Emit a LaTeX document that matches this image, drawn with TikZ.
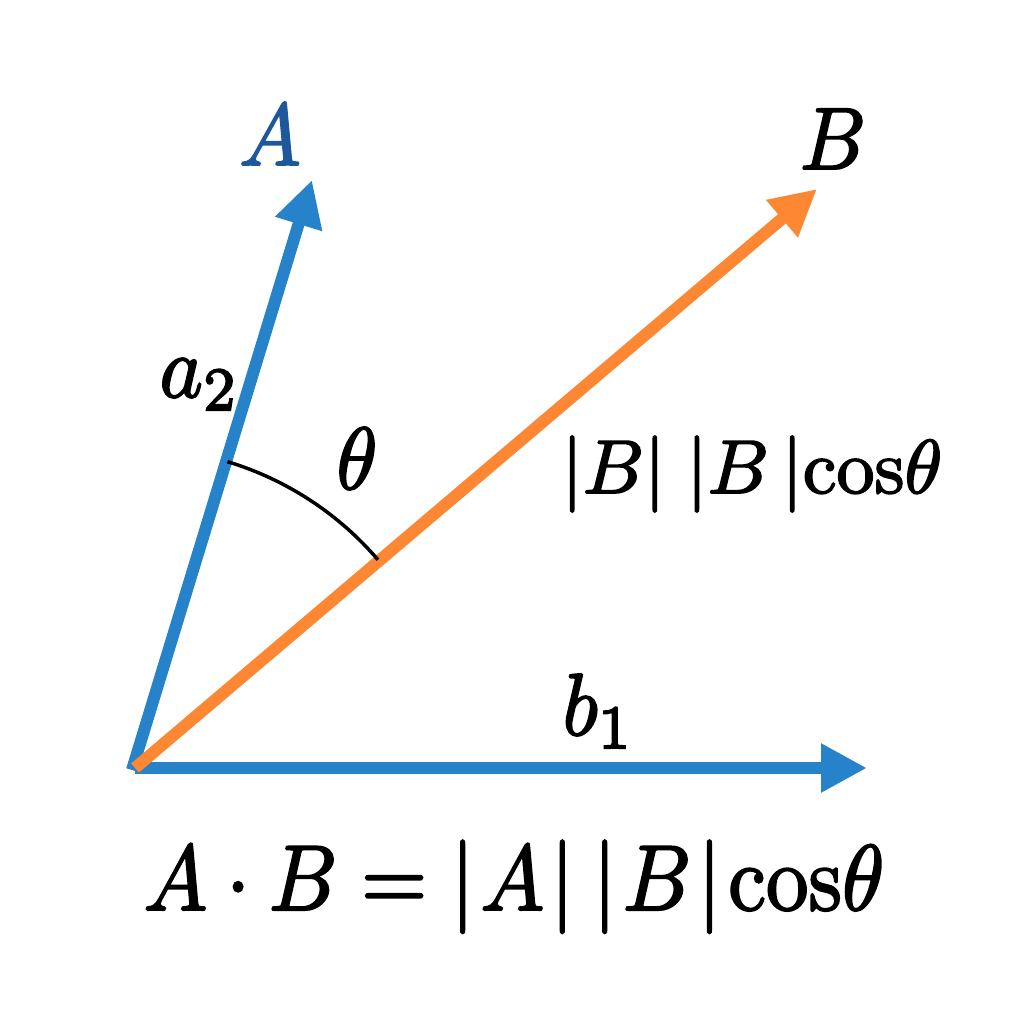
\documentclass[tikz,border=0pt]{standalone}
\usetikzlibrary{arrows.meta,calc}
\definecolor{vblue}{RGB}{38,131,202}
\definecolor{vorange}{RGB}{253,135,50}
\definecolor{lblue}{RGB}{28,88,155}
\newcommand{\heavytext}[1]{\special{pdf:literal direct 2 Tr 0.22 w}#1\special{pdf:literal direct 0 Tr}}
\tikzset{
  vec/.style={line width=12pt, -{Triangle[length=46pt,width=46pt]}},
  lbl/.style={inner sep=0pt, xscale=8.2, yscale=8.8},
  eqn/.style={inner sep=0pt, xscale=8.5, yscale=9.3},
  mid/.style={inner sep=0pt, scale=7.6},
}
\begin{document}
\begin{tikzpicture}[x=1pt,y=-1pt]
\useasboundingbox[fill=white] (0,0) rectangle (1024,1024);
\coordinate (O) at (135,768);
\coordinate (Atip) at (312,180);
\coordinate (Btip) at (817,189);
\coordinate (Htip) at (867,768);
\coordinate (Ostart) at (132,770);
\coordinate (arcA) at ($(O)+(-73.2:320)$);
\draw[vec, vblue] (Ostart) -- (Atip);
\draw[vec, vblue] (O) -- (Htip);
\draw[vec, vorange] (O) -- (Btip);
\draw[line width=3.5pt, black] (arcA) arc[start angle=-73.2, end angle=-40.6, radius=320];
\node[lbl, anchor=base, text=lblue] (lA) at (270,165) {\heavytext{$A$}};
\node[lbl, anchor=base] (lB) at (833,169) {\heavytext{$B$}};
\node[lbl, anchor=base west] (la2) at (158,397) {\heavytext{$a_2$}};
\node[lbl, anchor=base] (lth) at (357,489) {\heavytext{$\theta$}};
\node[lbl, anchor=base west] (lb1) at (561,735) {\heavytext{$b_1$}};
\node[mid, anchor=base] (lmid) at (752,493) {\heavytext{$|B|\;|B\,|\mathrm{cos}\theta$}};
\node[eqn, anchor=base] (leq) at (514,910) {\heavytext{$A\cdot B=|\mkern1.3mu A\mkern1.3mu|\mkern4mu|\mkern1.3mu B\mkern1.3mu|\mkern1.5mu\mathrm{cos}\theta$}};
\end{tikzpicture}
\end{document}
